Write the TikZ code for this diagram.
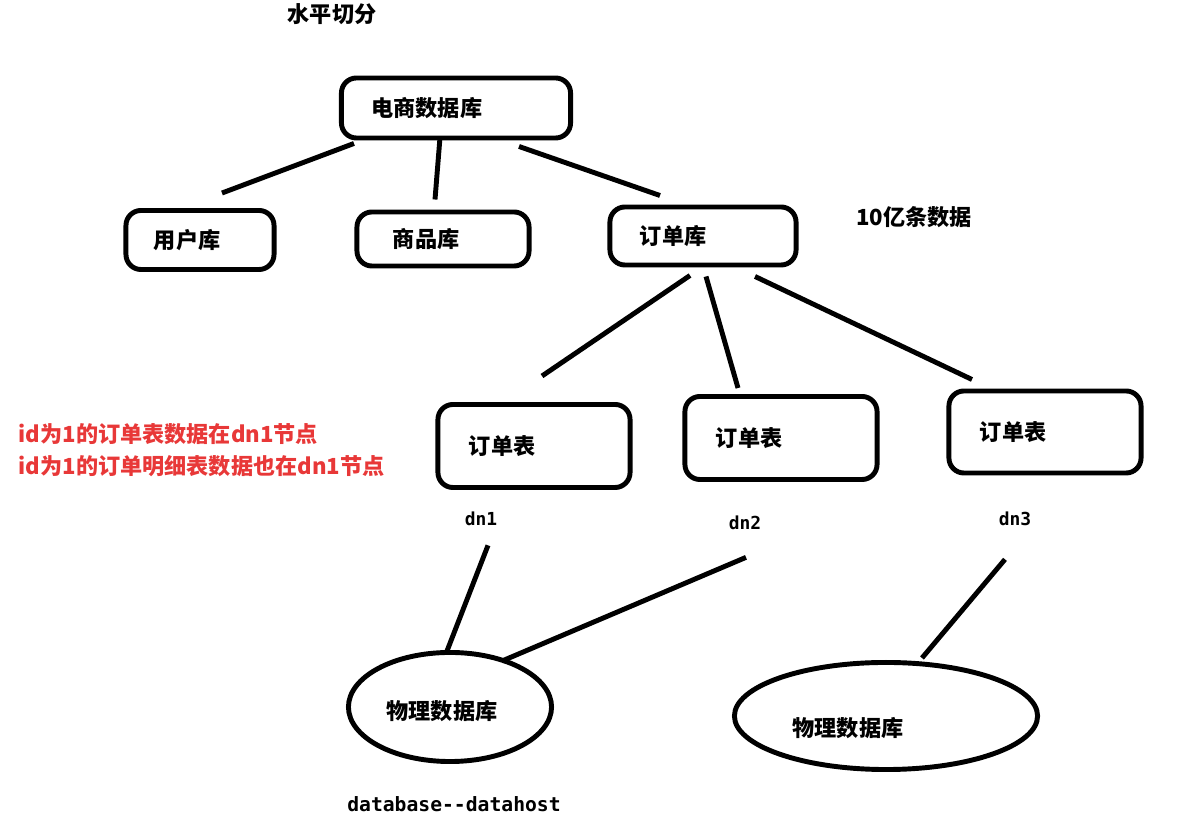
\documentclass[tikz,border=0pt]{standalone}
\usepackage{fontspec}
\usetikzlibrary{shapes.geometric}
\newfontfamily\cjk{Noto Sans CJK SC}
\newfontfamily\mono{DejaVu Sans Mono}
\definecolor{notered}{RGB}{232,56,56}
\begin{document}
\begin{tikzpicture}[x=0.01cm,y=-0.01cm,
  every node/.style={font=\cjk\bfseries\fontsize{6.3pt}{7.5pt}\selectfont},
  box/.style={draw, line width=1.4pt, rounded corners=0.15cm, align=left, inner xsep=0.3cm},
  dbase/.style={draw, ellipse, line width=1.4pt, inner sep=0pt},
  link/.style={line width=1.4pt},
  tag/.style={font=\mono\bfseries\fontsize{5.1pt}{6pt}\selectfont}]
\useasboundingbox (0,0) rectangle (1190,822);
\node (title) at (332,14) {水平切分};
\node [box, text width=1.69cm, minimum height=0.6cm] (shop) at (456,108) {电商数据库};
\node [box, text width=0.92cm, minimum height=0.59cm, inner xsep=0.28cm] (user) at (200,240) {用户库};
\node [box, text width=1.0cm, minimum height=0.54cm, inner xsep=0.36cm] (goods) at (443,239) {商品库};
\node [box, text width=1.26cm, minimum height=0.58cm] (order) at (703,236) {订单库};
\node (count) at (914,217) {10亿条数据};
\node [box, text width=1.3cm, minimum height=0.83cm, inner xsep=0.31cm] (tab1) at (534,446) {订单表};
\node [box, text width=1.3cm, minimum height=0.83cm, inner xsep=0.31cm] (tab2) at (781,438) {订单表};
\node [box, text width=1.3cm, minimum height=0.82cm, inner xsep=0.31cm] (tab3) at (1045,432) {订单表};
\node [anchor=west, inner xsep=0pt, text=notered] (note1) at (18,434) {id为1的订单表数据在dn1节点};
\node [anchor=west, inner xsep=0pt, text=notered] (note2) at (18,466) {id为1的订单明细表数据也在dn1节点};
\node [tag] (dn1) at (481,519) {dn1};
\node [tag] (dn2) at (745,523) {dn2};
\node [tag] (dn3) at (1015,519) {dn3};
\node [dbase, minimum width=2.03cm, minimum height=1.09cm, label={[xshift=-0.08cm,yshift=-0.04cm]center:物理数据库}] (phys1) at (450,707) {};
\node [dbase, minimum width=3.03cm, minimum height=1.07cm, label={[xshift=-0.38cm,yshift=-0.12cm]center:物理数据库}] (phys2) at (886,716) {};
\node [tag, font=\mono\bfseries\fontsize{5.6pt}{6.5pt}\selectfont] (host) at (454,804) {database--datahost};
\draw [link] ([shift={(15,3)}]shop.south west) -- ([shift={(22,-15)}]user.north);
\draw [link] ([shift={(-16,-3)}]shop.south) -- ([shift={(-8,-10)}]goods.north);
\draw [link] ([shift={(63,6)}]shop.south) -- ([shift={(-43,-9)}]order.north);
\draw [link] ([shift={(-13,8)}]order.south) -- ([shift={(8,-26)}]tab1.north);
\draw [link] ([shift={(3,9)}]order.south) -- ([shift={(-43,-6)}]tab2.north);
\draw [link] ([shift={(52,9)}]order.south) -- ([shift={(-73,-9)}]tab3.north);
\draw [link] ([shift={(7,7)}]dn1.south) -- ([shift={(-3,1)}]phys1.north);
\draw [link] ([shift={(1,15)}]dn2.south) -- ([shift={(52,11)}]phys1.north);
\draw [link] ([shift={(-10,21)}]dn3.south) -- ([shift={(36,-2)}]phys2.north);
\end{tikzpicture}
\end{document}
